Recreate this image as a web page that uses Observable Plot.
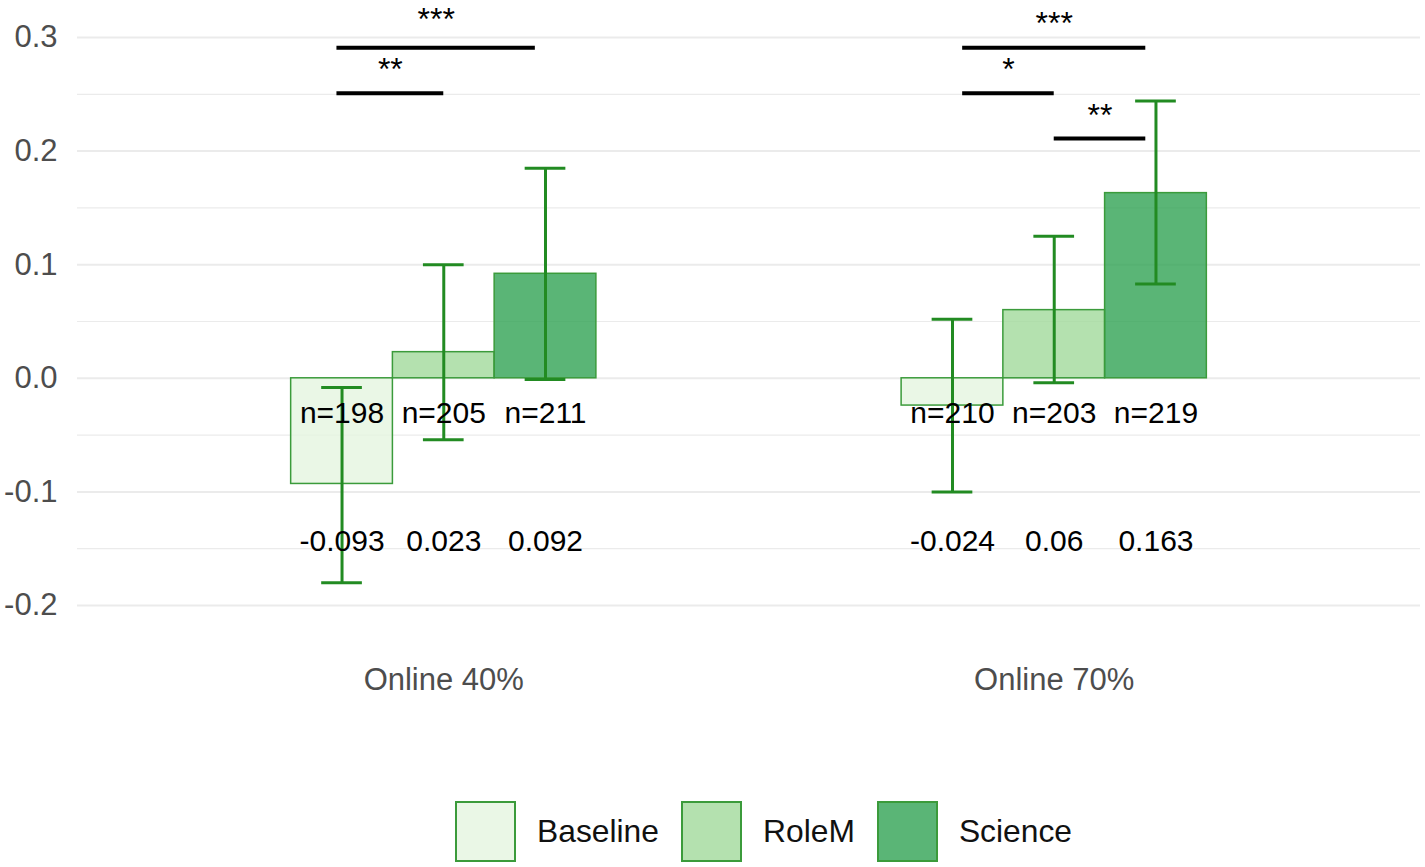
<!DOCTYPE html>
<html><head><meta charset="utf-8">
<script src="https://cdn.jsdelivr.net/npm/d3@7"></script>
<script src="https://cdn.jsdelivr.net/npm/@observablehq/plot@0.6"></script>
<style>
body{margin:0;background:#fff;font-family:"Liberation Sans",Arial,sans-serif;}
#wrap{position:relative;width:1425px;height:867px;overflow:hidden;}
#chart{position:absolute;left:0;top:0;}
#legend{position:absolute;left:455px;top:801px;display:flex;align-items:center;}
.sw{width:57px;height:57px;border:2px solid #3b9b3b;}
.lab{font-size:31.8px;color:#111;margin:0 22px 0 21px;}
</style></head><body><div id="wrap"><div id="chart"></div><div id="legend"></div></div>
<script>
const groups = ["Online 40%", "Online 70%"];
const conditions = ["Baseline", "RoleM", "Science"];
const means = [[-0.093, 0.023, 0.092], [-0.024, 0.06, 0.163]];
const ciLow = [[-0.180, -0.054, -0.001], [-0.100, -0.004, 0.083]];
const ciHigh = [[-0.008, 0.100, 0.185], [0.052, 0.125, 0.244]];
const counts = [[198, 205, 211], [210, 203, 219]];
const fills = ["#e5f5e0", "#a1d99b", "#31a354"];
const yTicks = [-0.2, -0.1, 0, 0.1, 0.2, 0.3];
const yMinor = [-0.15, -0.05, 0.05, 0.15, 0.25];
// significance brackets (x in group-axis units, y in data units)
const sigLabels = ["***", "**", "***", "*", "**"];
const sigXmin = [0.825, 0.825, 1.85, 1.85, 2.0];
const sigXmax = [1.15, 1.0, 2.15, 2.0, 2.15];
const sigY = [0.291, 0.251, 0.291, 0.251, 0.211];
const sigLabelY = [0.3065, 0.2627, 0.3027, 0.2627, 0.2217];

const dodge = 0.5;
const barW = dodge / conditions.length;
const capHalf = barW * 0.4 / 2;
const nLabelY = -0.031;
const valueLabelY = -0.1435;

const rows = [];
groups.forEach((g, gi) => conditions.forEach((c, ci) => {
  rows.push({
    group: g, cond: c,
    xc: gi + 1 + (ci - (conditions.length - 1) / 2) * barW,
    mean: means[gi][ci], lo: ciLow[gi][ci], hi: ciHigh[gi][ci], n: counts[gi][ci]
  });
}));
const sig = sigLabels.map((s, i) => ({label: s, x1: sigXmin[i], x2: sigXmax[i], y: sigY[i], ly: sigLabelY[i]}));

const green = "forestgreen";
const chart = Plot.plot({
  width: 1425, height: 720,
  marginLeft: 77, marginRight: 5, marginTop: 37, marginBottom: 115,
  style: {fontFamily: '"Liberation Sans", Arial, sans-serif', fontSize: "31px", background: "white", overflow: "visible"},
  x: {type: "linear", domain: [0.4, 2.6]},
  y: {domain: [-0.2, 0.3]},
  color: {domain: conditions, range: fills},
  marks: [
    Plot.ruleY(yMinor, {stroke: "#ebebeb", strokeWidth: 1.2}),
    Plot.ruleY(yTicks, {stroke: "#ebebeb", strokeWidth: 2}),
    Plot.axisY(yTicks, {tickFormat: d => d.toFixed(1), tickSize: 0, tickPadding: 20, fontSize: 31, color: "#4d4d4d", label: null}),
    Plot.axisX([1, 2], {tickFormat: d => groups[d - 1], tickSize: 0, tickPadding: 62, fontSize: 31, color: "#4d4d4d", label: null}),
    Plot.rect(rows, {x1: d => d.xc - barW / 2, x2: d => d.xc + barW / 2, y1: 0, y2: "mean", fill: "cond", fillOpacity: 0.8, stroke: "#3b9b3b", strokeWidth: 1.5}),
    Plot.ruleX(rows, {x: "xc", y1: "lo", y2: "hi", stroke: green, strokeWidth: 3}),
    Plot.ruleY(rows, {x1: d => d.xc - capHalf, x2: d => d.xc + capHalf, y: "lo", stroke: green, strokeWidth: 3}),
    Plot.ruleY(rows, {x1: d => d.xc - capHalf, x2: d => d.xc + capHalf, y: "hi", stroke: green, strokeWidth: 3}),
    Plot.ruleY(sig, {x1: "x1", x2: "x2", y: "y", stroke: "black", strokeWidth: 4}),
    Plot.text(sig, {x: d => (d.x1 + d.x2) / 2, y: "ly", text: "label", lineAnchor: "bottom", fontSize: 32, fill: "black"}),
    Plot.text(rows, {x: "xc", y: d => nLabelY, text: d => "n=" + d.n, fontSize: 30, fill: "black"}),
    Plot.text(rows, {x: "xc", y: d => valueLabelY, text: d => String(d.mean), fontSize: 30, fill: "black"})
  ]
});
document.getElementById("chart").appendChild(chart);

const legend = document.getElementById("legend");
conditions.forEach((c, i) => {
  const sw = document.createElement("div");
  sw.className = "sw";
  const col = d3.color(fills[i]); col.opacity = 0.8;
  sw.style.background = col.formatRgb();
  const lab = document.createElement("div");
  lab.className = "lab";
  lab.textContent = c;
  legend.appendChild(sw); legend.appendChild(lab);
});
</script></body></html>
